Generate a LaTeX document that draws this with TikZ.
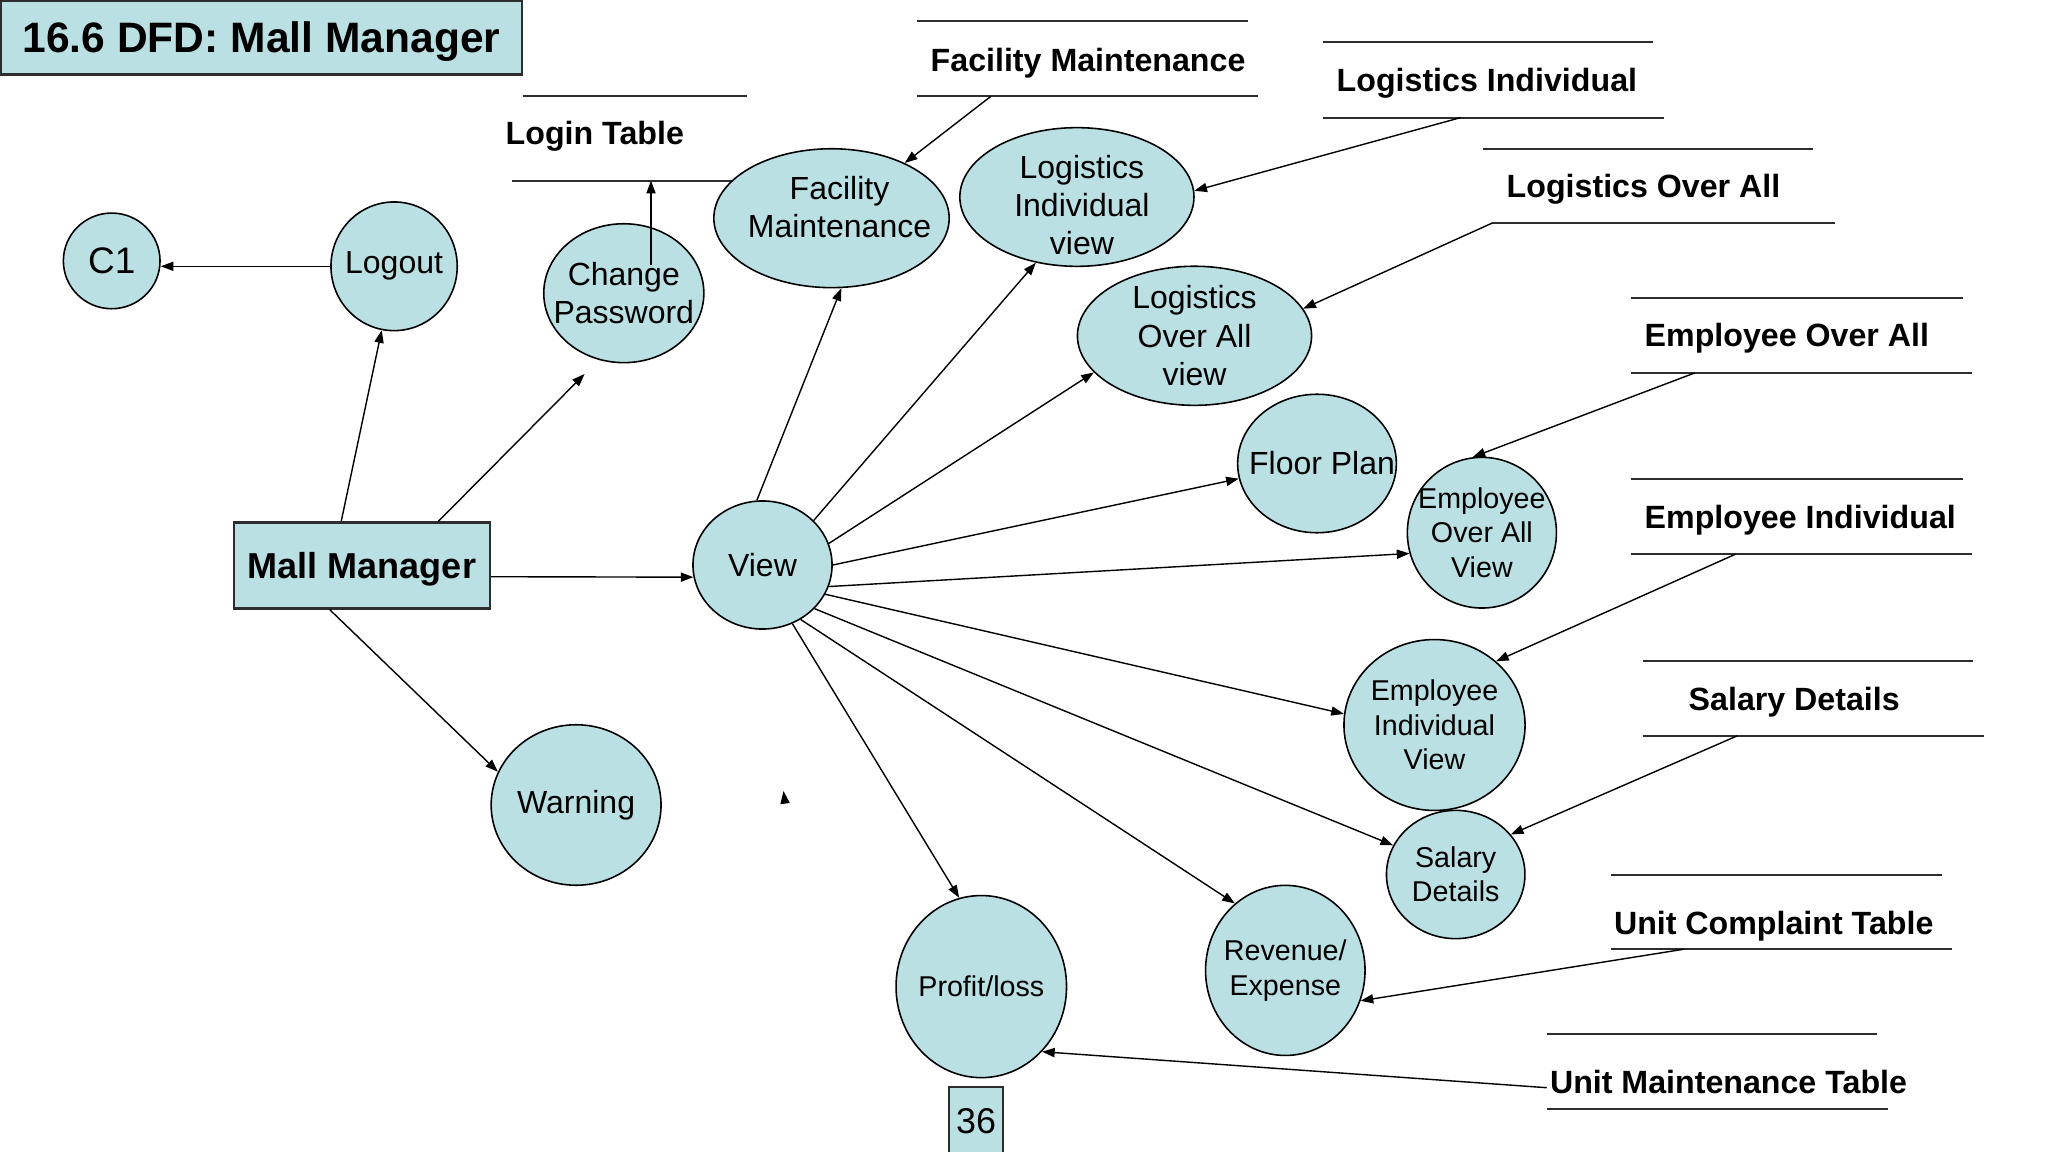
\documentclass[tikz,border=0pt]{standalone}
\usepackage{fontspec}
\setmainfont{Liberation Sans}
\usetikzlibrary{shapes.geometric}
\usetikzlibrary{arrows.meta}
\definecolor{bubble}{RGB}{187,224,227}
\definecolor{edge}{RGB}{45,45,45}
\tikzset{proc/.style={ellipse, draw=black, fill=bubble, line width=0.45pt, inner sep=0pt}}
\tikzset{ptxt/.style={align=center, inner sep=0pt, font=\fontsize{9.1}{10.9}\selectfont}}
\tikzset{stxt/.style={align=center, inner sep=0pt, font=\fontsize{8.15}{9.8}\selectfont}}
\tikzset{store/.style={anchor=base west, inner sep=0pt, font=\fontsize{9.15}{10.9}\selectfont\bfseries}}
\tikzset{sline/.style={draw=edge, line width=0.6pt}}
\tikzset{flow/.style={->, line width=0.4pt}}

\begin{document}
\begin{tikzpicture}[x=0.01cm, y=-0.01cm, >={Triangle[length=3.6pt,width=2.6pt]}]
    \useasboundingbox (0,0) rectangle (2048,1152);

    \coordinate (LTb) at (511.7,180.7);
    \coordinate (FMo) at (990.9,96.3);
    \coordinate (LIo) at (1460.7,117.6);
    \coordinate (LOo) at (1492.3,223);
    \coordinate (EOo) at (1694.8,372.9);
    \coordinate (EIo) at (1735.9,554);
    \coordinate (SDo) at (1737.3,735.8);
    \coordinate (UCo) at (1683.3,949.3);
    \coordinate (UMo) at (1546.7,1087.7);

    \coordinate (CPup) at (651,265);
    \coordinate (CPgap) at (584.6,374);
    \coordinate (S0) at (785,803);
    \coordinate (S1) at (783.5,791);

    %stores
    \draw[sline] (522.7,95.7) -- (746.7,95.7);
    \draw[sline] (LTb) -- (732,180.7);
    \draw[sline] (917,21.3) -- (1248,21.3);
    \draw[sline] (917,96.3) -- (1258,96.3);
    \draw[sline] (1322.5,42.2) -- (1653,42.2);
    \draw[sline] (1322.5,117.6) -- (1664,117.6);
    \draw[sline] (1483.2,148.8) -- (1813,148.8);
    \draw[sline] (1492.3,223) -- (1834.6,223);
    \draw[sline] (1631.4,298.3) -- (1962.6,298.3);
    \draw[sline] (1631.4,372.9) -- (1972.4,372.9);
    \draw[sline] (1631.4,479.4) -- (1962.6,479.4);
    \draw[sline] (1631.4,554) -- (1972.4,554);
    \draw[sline] (1642.5,661.2) -- (1973,661.2);
    \draw[sline] (1642.5,735.8) -- (1984,735.8);
    \draw[sline] (1610.7,874.7) -- (1941.7,874.7);
    \draw[sline] (1610.7,949.3) -- (1952.3,949.3);
    \draw[sline] (1546.7,1034) -- (1877.3,1034);
    \draw[sline] (1546.7,1109) -- (1888.3,1109);

    \node[store] (LTs) at (505,145) {Login Table};
    \node[store] (FMs) at (930,72) {Facility Maintenance};
    \node[store] (LIs) at (1336,92) {Logistics Individual};
    \node[store] (LOs) at (1506,198) {Logistics Over All};
    \node[store] (EOs) at (1644,347) {Employee Over All};
    \node[store] (EIs) at (1644,529) {Employee Individual};
    \node[store] (SDs) at (1688,710) {Salary Details};
    \node[store] (UCs) at (1613.3,934) {Unit Complaint Table};
    \node[store] (UMs) at (1549.3,1093.3) {Unit Maintenance Table};

    %boxes
    \node[draw=edge, fill=bubble, line width=0.7pt, inner sep=0pt, text depth=0pt, minimum width=5.21cm, minimum height=0.74cm,
        font=\fontsize{12.1}{14}\selectfont\bfseries] (T) at (261.5,37.5) {16.6 DFD: Mall Manager};
    \node[draw=edge, fill=bubble, line width=0.7pt, inner sep=0pt, text depth=0pt, minimum width=2.56cm, minimum height=0.86cm,
        font=\fontsize{10.25}{12}\selectfont\bfseries] (MM) at (361.9,565.4) {Mall Manager};
    \node[draw=edge, fill=bubble, line width=0.7pt, inner sep=0pt, minimum width=0.54cm, minimum height=0.69cm,
        font=\fontsize{10.2}{12}\selectfont] (P36) at (976,1121.5) {36};

    %processes
    \node[proc, minimum width=0.966cm, minimum height=0.956cm,
        label={[ptxt, font=\fontsize{10.5}{12}\selectfont]center:C1}] (C1) at (111.7,260.9) {};
    \node[proc, minimum width=1.262cm, minimum height=1.286cm, label={[ptxt]center:Logout}] (LO) at (394.1,266.3) {};
    \node[proc, minimum width=1.6cm, minimum height=1.388cm, label={[ptxt]center:Change\\Password}] (CP) at (623.8,293.2) {};
    \node[proc, minimum width=2.352cm, minimum height=1.388cm,
        label={[ptxt, xshift=0.08cm, yshift=0.11cm]center:Facility\\Maintenance}] (FM) at (831.5,218.2) {};
    \node[proc, minimum width=2.34cm, minimum height=1.386cm,
        label={[ptxt, xshift=0.05cm, yshift=-0.08cm]center:Logistics\\Individual\\view}] (LIV) at (1076.9,197) {};
    \node[proc, minimum width=2.34cm, minimum height=1.39cm, label={[ptxt]center:Logistics\\Over All\\view}] (LOA) at (1194.5,335.8) {};
    \node[proc, minimum width=1.586cm, minimum height=1.384cm,
        label={[ptxt, xshift=0.05cm]center:Floor Plan}] (FP) at (1317,463.5) {};
    \node[proc, minimum width=1.49cm, minimum height=1.506cm, label={[stxt]center:Employee\\Over All\\View}] (EOV) at (1481.9,532.7) {};
    \node[proc, minimum width=1.81cm, minimum height=1.708cm, label={[stxt]center:Employee\\Individual\\View}] (EIV) at (1434.5,725) {};
    \node[proc, minimum width=1.384cm, minimum height=1.282cm, label={[stxt]center:Salary\\Details}] (SD) at (1455.7,874.5) {};
    \node[proc, minimum width=1.594cm, minimum height=1.7cm, label={[stxt]center:Revenue/\\Expense}] (RE) at (1285.3,970.4) {};
    \node[proc, minimum width=1.704cm, minimum height=1.82cm, label={[stxt]center:Profit/loss}] (PL) at (981.3,986.6) {};
    \node[proc, minimum width=1.698cm, minimum height=1.604cm, label={[ptxt]center:Warning}] (W) at (576.1,805) {};
    \node[proc, minimum width=1.39cm, minimum height=1.28cm, label={[ptxt]center:View}] (V) at (762.5,565) {};

    %flows
    \draw[flow] (LO.west) -- (LO.west -| C1.east);
    \draw[flow] (MM.115) -- (LO.-101);
    \draw[flow] (MM.30) -- (CPgap);
    \draw[flow] (CPup) -- (CPup |- LTb);
    \draw[flow] (MM.-5) -- (V.-170);
    \draw[flow] (MM.-126) -- (W.157);

    \draw[flow] (V.95) -- (FM.-82);
    \draw[flow] (V.41) -- (LIV.-122);
    \draw[flow] (V.18) -- (LOA.-160);
    \draw[flow] (V.0) -- (FP.-169);
    \draw[flow] (V.-18) -- (EOV.-164);
    \draw[flow] (V.-25) -- (EIV.173);
    \draw[flow] (V.-40) -- (SD.155);
    \draw[flow] (V.-55) -- (RE.127);
    \draw[flow] (V.-63) -- (PL.104);

    \draw[flow] (FMo) -- (FM.37);
    \draw[flow] (LIo) -- (LIV.3);
    \draw[flow] (LOo) -- (LOA.14);
    \draw[flow] (EOo) -- (EOV.97);
    \draw[flow] (EIo) -- (EIV.46);
    \draw[flow] (SDo) -- (SD.36);
    \draw[flow] (UCo) -- (RE.-22);
    \draw[flow] (UMo) -- (PL.-47);

    \draw[flow] (S0) -- (S1);
\end{tikzpicture}
\end{document}
